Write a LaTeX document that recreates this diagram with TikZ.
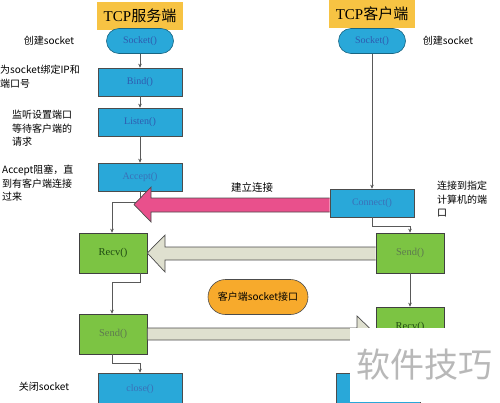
\documentclass[tikz,border=0pt]{standalone}
\usepackage{fontspec}
\setmainfont{Liberation Serif}
\newfontfamily\cjk{Noto Sans CJK SC}
\usetikzlibrary{arrows.meta,calc}
\definecolor{boxblue}{HTML}{29A8D9}
\definecolor{boxgreen}{HTML}{7CC443}
\definecolor{titleyel}{HTML}{F7C343}
\definecolor{pinkarr}{HTML}{E9508C}
\definecolor{beige}{HTML}{DFE0CF}
\definecolor{orangebub}{HTML}{F7AA2C}
\definecolor{txtblue}{HTML}{2F5BB0}
\definecolor{txtlblue}{HTML}{3A70B8}
\definecolor{txtdgreen}{HTML}{1E4A12}
\definecolor{txtsgreen}{HTML}{5E7A4E}
\tikzset{
  bluebox/.style={draw=black!70, line width=0.6pt, fill=boxblue, minimum width=84pt, minimum height=28pt, inner sep=0pt, font=\fontsize{10}{11}\selectfont, text=txtblue},
  greenbox/.style={draw=black!75, line width=0.6pt, fill=boxgreen, minimum width=68pt, minimum height=40pt, inner sep=0pt, font=\fontsize{10.5}{11}\selectfont},
  pill/.style={draw=boxblue!60!black, line width=0.6pt, fill=boxblue, rounded corners=12.5pt, minimum width=67pt, minimum height=25pt, inner sep=0pt, font=\fontsize{10}{11}\selectfont, text=txtblue},
  titlebox/.style={fill=titleyel, minimum width=86pt, minimum height=28pt, inner sep=0pt, font=\fontsize{15}{16}\selectfont},
  lbl/.style={font=\cjk\fontsize{10}{13.5}\selectfont, inner sep=0pt, align=left},
  conn/.style={draw=black!65, line width=0.5pt, -{Stealth[length=4pt,width=3.5pt]}},
  bigarr/.style={draw=black!70, line width=0.7pt, line join=miter}
}
\begin{document}
\begin{tikzpicture}[x=1pt,y=-1pt]
\useasboundingbox (0,0) rectangle (500,402);
% titles
\node[titlebox] (st) at (140,16) {TCP{\cjk 服务端}};
\node[titlebox] (ct) at (372,13.5) {TCP{\cjk 客户端}};
% server column
\node[pill] (ssock) at (140,41) {Socket()};
\node[bluebox] (bind) at (140,82) {Bind()};
\node[bluebox] (listen) at (140,122) {Listen()};
\node[bluebox, text=txtlblue] (accept) at (140,177) {Accept()};
\node[greenbox, text=txtdgreen] (srecv) at (113,253) {Recv()};
\node[greenbox, text=txtsgreen] (ssend) at (113,334) {Send()};
\node[bluebox, minimum height=32pt, text=txtlblue] (sclose) at (140,389) {close()};
% client column
\node[pill] (csock) at (372,41) {Socket()};
\node[bluebox, text=txtlblue] (connect) at (372,203) {Connect()};
\node[greenbox, text=txtsgreen] (csend) at (410,253) {Send()};
\node[greenbox, text=txtdgreen] (crecv) at (410,327) {Recv()};
\node[bluebox, minimum height=32pt] (cclose) at (378,389) {close()};
% thin connectors
\draw[conn] (ssock) -- (bind);
\draw[conn] (bind) -- (listen);
\draw[conn] (listen) -- (accept);
\coordinate (a1) at (140,202);
\coordinate (a2) at (112,202);
\draw[conn] (accept.south) -- (a1) -- (a2) -- (a2 |- srecv.north);
\coordinate (r1) at (140,282);
\coordinate (r2) at (112,282);
\draw[conn] (r1 |- srecv.south) -- (r1) -- (r2) -- (r2 |- ssend.north);
\coordinate (s1) at (112,363);
\coordinate (s2) at (140,363);
\draw[conn] (s1 |- ssend.south) -- (s1) -- (s2) -- (sclose.north);
\draw[conn] (csock) -- (connect);
\coordinate (c1) at (372,226);
\coordinate (c2) at (410,226);
\draw[conn] (connect.south) -- (c1) -- (c2) -- (csend.north);
\draw[conn] (csend) -- (crecv);
% big arrows
\draw[bigarr, fill=pinkarr] (connect.west |- 0,198) -- (151,198) -- (151,187) -- (134,204.5) -- (151,222) -- (151,212) -- (connect.west |- 0,212) ;
\draw[bigarr, fill=beige] (csend.west |- 0,247) -- (165,247) -- (165,235) -- (srecv.east) -- (165,272) -- (165,260) -- (csend.west |- 0,260);
\draw[bigarr, fill=beige] (ssend.east |- 0,328) -- (357,328) -- (357,316) -- (crecv.west |- 0,334) -- (357,352) -- (357,340) -- (ssend.east |- 0,340) -- cycle;
% bubble
\node[draw=black!70, line width=0.6pt, fill=orangebub, rounded corners=17.5pt, minimum width=100pt, minimum height=35pt, inner sep=0pt, font=\cjk\fontsize{10}{12}\selectfont] (bub) at (258,297) {客户端socket接口};
% labels
\node[lbl] (l1) at (49,41) {创建socket};
\node[lbl, anchor=north west] (l2) at (0,65) {为socket绑定IP和\\端口号};
\node[lbl, anchor=north west] (l3) at (12,110) {监听设置端口\\等待客户端的\\请求};
\node[lbl, anchor=north west] (l4) at (2,165) {Accept阻塞，直\\到有客户端连接\\过来};
\node[lbl] (l5) at (44,387) {关闭socket};
\node[lbl] (l6) at (448,41) {创建socket};
\node[lbl, anchor=north west] (l7) at (437,181) {连接到指定\\计算机的端\\口};
\node[lbl, font=\cjk\fontsize{10.5}{12}\selectfont] (l8) at (252,187) {建立连接};
% watermark
\fill[white] (350,328) rectangle (500,402);
\node[font=\cjk\fontsize{34}{36}\selectfont, text=black!28, inner sep=0pt] (wm) at (424,365) {软件技巧};
\end{tikzpicture}
\end{document}
